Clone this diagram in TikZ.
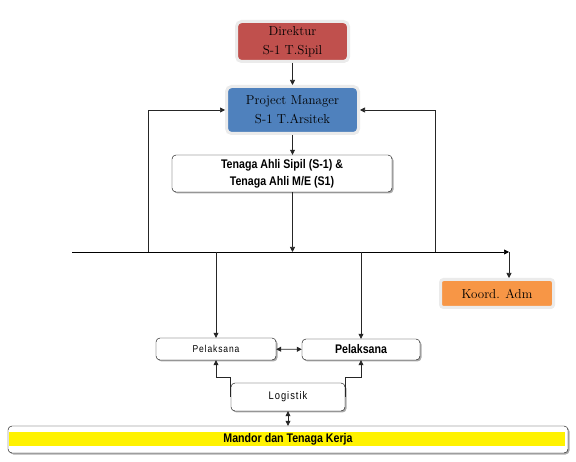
\documentclass[tikz,border=0pt]{standalone}
\usepackage{fontspec}
\newfontfamily\narrowsans[FakeStretch=0.85]{Liberation Sans}
\newfontfamily\spacedsans[FakeStretch=0.85, LetterSpace=9]{Liberation Sans}
\usepackage{xcolor}
\usetikzlibrary{arrows.meta, shadows}

\definecolor{dirred}{HTML}{C0504D}
\definecolor{pmblue}{HTML}{4F81BD}
\definecolor{admorange}{HTML}{F79646}

\begin{document}
\begin{tikzpicture}[
  x=1pt, y=-1pt,
  headbox/.style={
    draw=black!8,
    line width=3pt,
    rounded corners=5pt,
    align=center,
    font=\fontsize{13}{19}\selectfont,
    drop shadow={shadow xshift=1pt, shadow yshift=-1pt, fill=black!25}
  },
  unitbox/.style={
    draw,
    fill=white,
    rounded corners=4pt,
    align=center,
    font=\narrowsans\bfseries\fontsize{12.5}{17}\selectfont,
    drop shadow={shadow xshift=1.5pt, shadow yshift=-1.5pt, fill=black!65}
  },
  arrow/.style={-{Triangle[length=5pt, width=5pt]}, black!85, line width=0.7pt},
  twoway/.style={{Triangle[length=5pt, width=5pt]}-{Triangle[length=5pt, width=5pt]}, black!85, line width=0.7pt}
]
\useasboundingbox (0,0) rectangle (576,462);

% Nodes
\node[headbox, fill=dirred, minimum width=112pt, minimum height=40pt] (direktur) at (292.5,41.5)
  {Direktur\\S-1 T.Sipil};
\node[headbox, fill=pmblue, minimum width=132pt, minimum height=47pt] (pm) at (292.5,110)
  {Project Manager\\S-1 T.Arsitek};
\node[unitbox, minimum width=220pt, minimum height=37pt] (ahli) at (282,173.5)
  {Tenaga Ahli  Sipil (S-1) \&\\Tenaga Ahli M/E (S1)};
\node[headbox, fill=admorange, rounded corners=3pt, minimum width=113pt, minimum height=28pt] (adm) at (497,293.5)
  {Koord. Adm};
\node[unitbox, font=\spacedsans\fontsize{10}{12}\selectfont, minimum width=120pt, minimum height=22pt] (pelL) at (216,349)
  {Pelaksana};
\node[unitbox, minimum width=118pt, minimum height=21pt] (pelR) at (361,349.5)
  {Pelaksana};
\node[unitbox, font=\spacedsans\fontsize{11}{13}\selectfont, minimum width=114pt, minimum height=28pt] (logistik) at (288,397)
  {Logistik};
\node[unitbox, minimum width=560pt, minimum height=27pt,
  path picture={\fill[yellow, sharp corners] ([xshift=1pt, yshift=-6pt]path picture bounding box.north west)
    rectangle ([xshift=-3pt, yshift=7pt]path picture bounding box.south east);}] (mandor) at (288,439.5)
  {Mandor dan Tenaga Kerja};

\coordinate (busL) at (72,252);
\coordinate (busR) at (509,252);
\coordinate (loopL) at (148,252);
\coordinate (loopR) at (435,252);

% Arrows
\draw[arrow] (direktur) -- (pm);
\draw[arrow] (pm.south) -- (pm.south |- ahli.north);
\draw[arrow] (pm.south |- ahli.south) -- (pm.south |- busL);
\draw[arrow, black] (busL) -- (busR);
\draw[arrow] (busR) -- (busR |- adm.north);
\draw[arrow] (loopL) |- (pm.west);
\draw[arrow] (loopR) |- (pm.east);
\draw[arrow] (pelL.north |- busL) -- (pelL.north);
\draw[arrow] (pelR.north |- busL) -- (pelR.north);
\draw[twoway] (pelL) -- (pelR);
\draw[arrow] (logistik.west) -- ([yshift=5pt]logistik.north west) -| (pelL.south);
\draw[arrow] (logistik.east) -- ([yshift=5pt]logistik.north east) -| (pelR.south);
\draw[twoway] (logistik) -- (mandor);

\end{tikzpicture}
\end{document}
